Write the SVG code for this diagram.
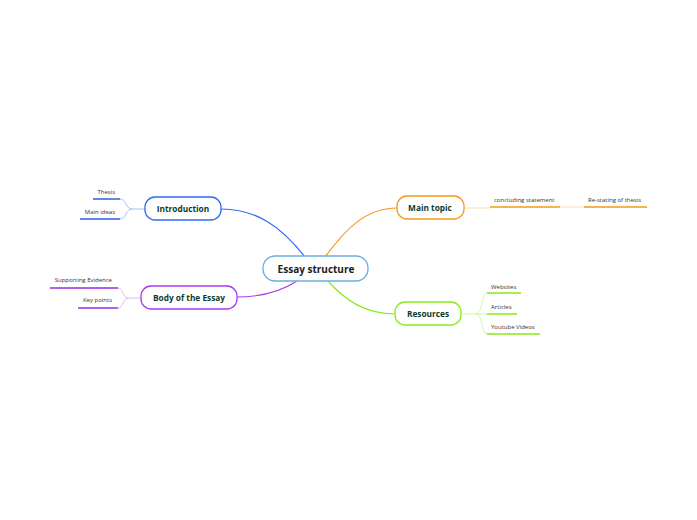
<svg xmlns="http://www.w3.org/2000/svg" width="697" height="520" viewBox="0 0 697 520">
<style>
text{font-family:"Open Sans","Noto Sans",sans-serif}
.t{font-size:8.3px;font-weight:bold;fill:#0e3b2e;text-anchor:middle}
.c{font-size:10px;font-weight:bold;fill:#222;text-anchor:middle}
.l{font-size:6px;fill:#333}
.n{fill:#fff;stroke-width:1.3}
path{fill:none}
</style>
<rect width="697" height="520" fill="#fff"/>
<g id="connectors">
<path d="M305,257 C280,225 255,209 221,209" stroke="#2f6bf5" stroke-width="1.2"/>
<path d="M325,257 C345,230 365,208 397,208" stroke="#f59a1a" stroke-width="1.2"/>
<path d="M297,281 C280,292 260,297 237,297" stroke="#a63cf0" stroke-width="1.2"/>
<path d="M328,281 C345,300 365,314 395,314" stroke="#86ec1c" stroke-width="1.2"/>
<path d="M145,209 H132 C126,209 126,199 120,199 M132,209 C126,209 126,219 120,219" stroke="#8fb0f7" stroke-width="0.8"/>
<path d="M141,298 H128 C123,298 123,288 118,288 M128,298 C123,298 123,308 118,308" stroke="#d6a8f7" stroke-width="0.8"/>
<path d="M464,208 H490 M560,207 H584" stroke="#fbd59a" stroke-width="0.8"/>
<path d="M461,314 H476 C483,314 481,293 487,293 M476,314 H487 M476,314 C483,314 481,334 487,334" stroke="#c6f59a" stroke-width="0.8"/>
<g stroke-width="1.3">
<path d="M93,199 H120 M80,219 H120" stroke="#2f5fe0"/>
<path d="M50,288 H118 M78,308 H118" stroke="#9a2ee0"/>
<path d="M490,207 H560 M584,207 H647" stroke="#f59a1a"/>
<path d="M487,293 H521 M487,314 H517 M487,334 H540" stroke="#86ec1c"/>
</g>
</g>
<g id="central"><rect class="n" x="263" y="256" width="105" height="25" rx="12" stroke="#6aaee0"/><text class="c" x="316" y="272.5">Essay structure</text></g>
<g id="intro"><rect class="n" x="145" y="197" width="76" height="23" rx="10" stroke="#2f6bf5"/><text class="t" x="183" y="212">Introduction</text></g>
<g id="body"><rect class="n" x="141" y="286" width="96" height="23" rx="10" stroke="#a63cf0"/><text class="t" x="189" y="301">Body of the Essay</text></g>
<g id="main"><rect class="n" x="397" y="196" width="67" height="23" rx="10" stroke="#f59a1a"/><text class="t" x="430" y="211">Main topic</text></g>
<g id="resources"><rect class="n" x="395" y="302" width="66" height="23" rx="10" stroke="#86ec1c"/><text class="t" x="428" y="317">Resources</text></g>
<g id="thesis"><text class="l" x="115" y="194" text-anchor="end">Thesis</text></g>
<g id="mainideas"><text class="l" x="115" y="214" text-anchor="end">Main ideas</text></g>
<g id="support"><text class="l" x="112" y="282" text-anchor="end">Supporting Evidence</text></g>
<g id="keypoints"><text class="l" x="112" y="302" text-anchor="end">Key points</text></g>
<g id="concl"><text class="l" x="494" y="202">concluding statement</text></g>
<g id="restate"><text class="l" x="588" y="202">Re-stating of thesis</text></g>
<g id="websites"><text class="l" x="491" y="289">Websites</text></g>
<g id="articles"><text class="l" x="491" y="309">Articles</text></g>
<g id="youtube"><text class="l" x="491" y="329">Youtube Videos</text></g>
</svg>
